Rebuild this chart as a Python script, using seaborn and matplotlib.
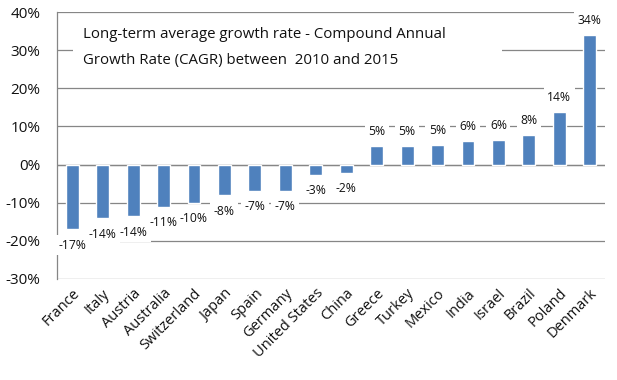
import matplotlib
matplotlib.use("Agg")
import matplotlib.pyplot as plt
import seaborn as sns
import pandas as pd
from matplotlib.ticker import FuncFormatter
from matplotlib.patches import Rectangle

countries = ["France", "Italy", "Austria", "Australia", "Switzerland", "Japan", "Spain",
             "Germany", "United States", "China", "Greece", "Turkey", "Mexico", "India",
             "Israel", "Brazil", "Poland", "Denmark"]
cagr = [-17.0, -14.1, -13.6, -11.0, -10.1, -8.1, -7.0, -7.0, -2.8, -2.3,
        4.8, 4.8, 5.1, 6.1, 6.4, 7.7, 13.7, 33.9]
labels = ["-17%", "-14%", "-14%", "-11%", "-10%", "-8%", "-7%", "-7%", "-3%", "-2%",
          "5%", "5%", "5%", "6%", "6%", "8%", "14%", "34%"]
yticks = [-30, -20, -10, 0, 10, 20, 30, 40]
title_text = "Long-term average growth rate - Compound Annual\nGrowth Rate (CAGR) between  2010 and 2015"

sns.set_style("white")
plt.rcParams['font.family'] = ['Open Sans', 'DejaVu Sans']

df = pd.DataFrame({"country": countries, "cagr": cagr})

fig = plt.figure(figsize=(6.17, 3.80), dpi=100)
ax = fig.add_axes([57/617, 1-279/380, (605-57)/617, (279-12)/380])

sns.barplot(data=df, x="country", y="cagr", color="#4F81BD", saturation=1,
            width=0.42, ax=ax, zorder=2)

ax.set_ylim(-30, 40)
ax.set_xlim(-0.5, len(countries) - 0.5)
ax.set_yticks(yticks)
ax.yaxis.set_major_formatter(FuncFormatter(lambda v, p: f"{int(v)}%"))
ax.tick_params(axis='y', labelsize=11, length=0, pad=12, colors="#111111")
ax.tick_params(axis='x', length=0, pad=5)
ax.set_xticks(range(len(countries)))
ax.set_xticklabels(countries, rotation=45, ha='right', rotation_mode='anchor',
                   fontsize=10.5, color="#111111")
ax.set_xlabel("")
ax.set_ylabel("")
ax.grid(axis='y', color="#868686", linewidth=0.9, zorder=0)
ax.set_axisbelow(True)
for s in ["top", "right", "bottom"]:
    ax.spines[s].set_visible(False)
ax.spines["left"].set_color("#868686")
ax.spines["left"].set_linewidth(0.9)
ax.axhline(0, color="#868686", linewidth=0.9, zorder=1)

# white backgrounds first, then texts, so neighbouring labels never hide each other
for i, (v, lab) in enumerate(zip(cagr, labels)):
    y = v + 2.2 if v >= 0 else v - 2.4
    va = 'bottom' if v >= 0 else 'top'
    ax.text(i, y, lab, ha='center', va=va, fontsize=8.7, color="white", zorder=3,
            bbox=dict(facecolor='white', edgecolor='none', pad=2.5))
    ax.text(i, y, lab, ha='center', va=va, fontsize=8.7, color="#111111", zorder=5)

# white text box behind the title
ax.add_patch(Rectangle((16/548, (279-80)/267), (502-73)/548, (80-14)/267,
                       transform=ax.transAxes, facecolor='white', edgecolor='none',
                       zorder=3))
ax.text(26/548, (279-27)/267, title_text, transform=ax.transAxes, ha='left', va='top',
        fontsize=10.8, linespacing=2.0, color="#111111", zorder=4)

fig.savefig("out.png", dpi=100)
